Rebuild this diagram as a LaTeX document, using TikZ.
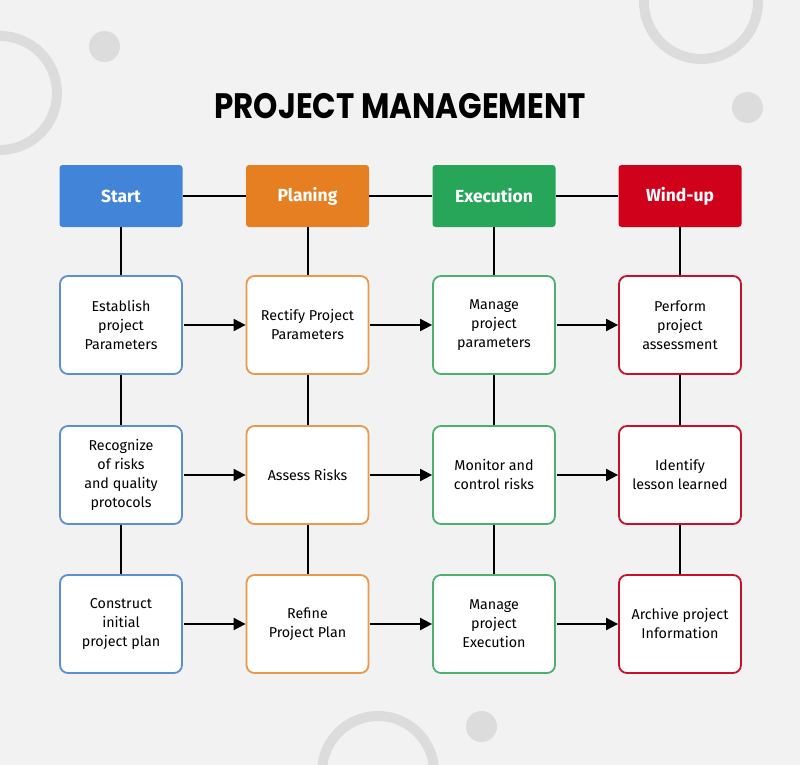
\documentclass[tikz,border=0pt]{standalone}
\usepackage{fontspec}
\setmainfont{Fira Sans}
\newfontfamily\titlefont{Poppins}
\usetikzlibrary{arrows.meta}
\definecolor{bgc}{HTML}{F2F2F2}
\definecolor{deco}{HTML}{DCDCDC}
\definecolor{cblue}{HTML}{4285D8}
\definecolor{corange}{HTML}{E67E22}
\definecolor{cgreen}{HTML}{27A65A}
\definecolor{cred}{HTML}{D0021B}
\definecolor{bblue}{HTML}{5B8FD2}
\definecolor{borange}{HTML}{E8994A}
\definecolor{bgreen}{HTML}{4DAF70}
\definecolor{bred}{HTML}{C8102E}
\begin{document}
\begin{tikzpicture}[x=1pt,y=-1pt,
  header/.style={minimum width=123pt,minimum height=62pt,rounded corners=3pt,text=white,
    font=\bfseries\fontsize{17.5}{17.5}\selectfont,inner sep=0pt},
  stepbox/.style={minimum width=122pt,minimum height=98pt,rounded corners=8pt,fill=white,
    line width=1.8pt,align=center,inner sep=0pt,font=\fontsize{14.3}{19}\selectfont},
  link/.style={line width=2pt,black},
  arr/.style={line width=2pt,black,-{Triangle[length=12pt,width=12pt]}}]
\useasboundingbox (0,0) rectangle (800,765);
\fill[bgc] (0,0) rectangle (800,765);
\begin{scope}
\clip (0,0) rectangle (800,765);
\draw[deco,line width=10pt] (0,93) circle (57);
\fill[deco] (104.5,46.5) circle (15.5);
\draw[deco,line width=10pt] (701,2) circle (57);
\fill[deco] (747.5,107.5) circle (15.5);
\draw[deco,line width=10pt] (378,772) circle (56);
\fill[deco] (481.5,726.5) circle (15.5);
\end{scope}
\node (title) at (400,106) {\scalebox{0.91}[1.04]{\titlefont\bfseries\fontsize{34}{34}\selectfont PROJECT MANAGEMENT}};
% headers
\node[header,fill=cblue] (h1) at (121,196) {Start};
\node[header,fill=corange] (h2) at (307.5,196) {Planing};
\node[header,fill=cgreen] (h3) at (494,196) {Execution};
\node[header,fill=cred] (h4) at (680,196) {Wind-up};
% column 1
\node[stepbox,draw=bblue] (a1) at (121,325) {Establish\\project\\Parameters};
\node[stepbox,draw=bblue] (a2) at (121,475) {Recognize\\of risks\\and quality\\protocols};
\node[stepbox,draw=bblue] (a3) at (121,624) {Construct\\initial\\project plan};
% column 2
\node[stepbox,draw=borange] (b1) at (307.5,325) {Rectify Project\\Parameters};
\node[stepbox,draw=borange] (b2) at (307.5,475) {Assess Risks};
\node[stepbox,draw=borange] (b3) at (307.5,624) {Refine\\Project Plan};
% column 3
\node[stepbox,draw=bgreen] (c1) at (494,325) {Manage\\project\\parameters};
\node[stepbox,draw=bgreen] (c2) at (494,475) {Monitor and\\control risks};
\node[stepbox,draw=bgreen] (c3) at (494,624) {Manage\\project\\Execution};
% column 4
\node[stepbox,draw=bred] (d1) at (680,325) {Perform\\project\\assessment};
\node[stepbox,draw=bred] (d2) at (680,475) {Identify\\lesson learned};
\node[stepbox,draw=bred] (d3) at (680,624) {Archive project\\Information};
% header links
\draw[link] (h1) -- (h2);
\draw[link] (h2) -- (h3);
\draw[link] (h3) -- (h4);
% vertical links
\foreach \c in {a,b,c,d}{
  \draw[link] (\c1) -- (\c2);
  \draw[link] (\c2) -- (\c3);
}
\draw[link] (h1) -- (a1);
\draw[link] (h2) -- (b1);
\draw[link] (h3) -- (c1);
\draw[link] (h4) -- (d1);
% arrows
\foreach \r in {1,2,3}{
  \draw[arr] ([xshift=1pt]a\r.east) -- (b\r.west);
  \draw[arr] ([xshift=1pt]b\r.east) -- (c\r.west);
  \draw[arr] ([xshift=1pt]c\r.east) -- (d\r.west);
}
\end{tikzpicture}
\end{document}
